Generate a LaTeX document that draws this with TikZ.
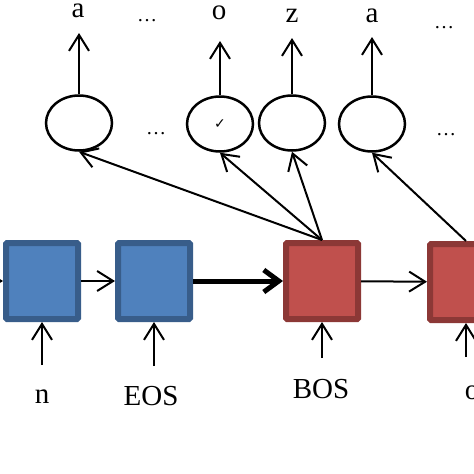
\documentclass[tikz,border=0pt]{standalone}
\usepackage{fontspec}
\setmainfont{Liberation Serif}
\newfontfamily\symfont{DejaVu Sans}
\usetikzlibrary{arrows.meta,positioning,shapes.geometric}
\definecolor{bluefill}{RGB}{79,129,189}
\definecolor{blueborder}{RGB}{56,93,138}
\definecolor{redfill}{RGB}{192,80,77}
\definecolor{redborder}{RGB}{140,56,54}

\begin{document}
\begin{tikzpicture}[
    x=1pt, y=-1pt,
    encoder/.style={rectangle, draw=blueborder, fill=bluefill, line width=6pt, minimum width=72pt, minimum height=76pt, rounded corners=1pt},
    decoder/.style={encoder, draw=redborder, fill=redfill},
    outcell/.style={ellipse, draw, line width=2.5pt, minimum width=66pt, minimum height=55pt, inner sep=0pt},
    arrow/.style={-{Straight Barb[length=16pt,width=20pt]}, line width=2pt},
    bigarrow/.style={-{Straight Barb[length=15pt,width=22pt]}, line width=5pt},
    token/.style={font=\fontsize{29}{31}\selectfont, anchor=base, inner sep=0pt},
    dots/.style={font=\fontsize{20}{22}\selectfont, anchor=base, inner sep=0pt}
]
\useasboundingbox (0,0) rectangle (474,474);

% Encoder cells
\node[encoder] (enc1) at (42,281) {};
\node[encoder] (enc2) at (154,281) {};

% Decoder cells
\node[decoder] (dec1) at (322,281) {};
\node[decoder] (dec2) at (466,282) {};

% Output cells
\node[outcell] (out1) at (79,123) {};
\node[outcell] (out2) at (220,124) {\symfont\fontsize{14}{15}\selectfont ✓};
\node[outcell] (out3) at (292,123) {};
\node[outcell] (out4) at (372,124) {};
\node[dots] (mdots1) at (156,134) {\dots};
\node[dots] (mdots2) at (446,135) {\dots};

% Output tokens
\node[token] (y1) at (78,17) {a};
\node[token] (y2) at (219,19) {o};
\node[token] (y3) at (292,22) {z};
\node[token] (y4) at (372,22) {a};
\node[dots] (tdots1) at (147,21) {\dots};
\node[dots] (tdots2) at (444,28) {\dots};
\coordinate (top1) at (79,33);
\coordinate (top2) at (220,41);
\coordinate (top3) at (292,38);
\coordinate (top4) at (372,37);

% Input tokens
\node[token] (x1) at (42,403) {n};
\node[token] (x2) at (151,405) {EOS};
\node[token] (x3) at (321,398) {BOS};
\node[token] (x4) at (472,399) {o};
\coordinate (in1) at (42,365);
\coordinate (in2) at (154,366);
\coordinate (in3) at (322,358);
\coordinate (in4) at (466,357);

% Recurrence
\coordinate (prev) at (-40,281);
\draw[arrow] (prev) -- (enc1);
\draw[arrow] (enc1) -- (enc2);
\draw[bigarrow] (enc2) -- (dec1);
\draw[arrow] (dec1) -- (dec2);

% Inputs
\draw[arrow] (in1) -- (enc1);
\draw[arrow] (in2) -- (enc2);
\draw[arrow] (in3) -- (dec1);
\draw[arrow] (in4) -- (dec2);

% Decoder to outputs
\draw[arrow] (dec1.north) -- (out1.south);
\draw[arrow] (dec1.north) -- (out2.south);
\draw[arrow] (dec1.north) -- (out3.south);
\draw[arrow] (dec2.north) -- (out4.south);

% Outputs up
\draw[arrow] (out1) -- (top1);
\draw[arrow] (out2) -- (top2);
\draw[arrow] (out3) -- (top3);
\draw[arrow] (out4) -- (top4);

\end{tikzpicture}
\end{document}
